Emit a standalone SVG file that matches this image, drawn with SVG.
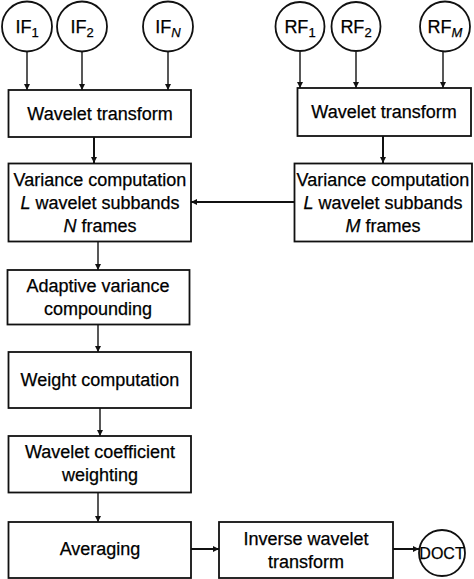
<svg xmlns="http://www.w3.org/2000/svg" width="474" height="579" viewBox="0 0 474 579">
<style>
.box{fill:#fff;stroke:#111;stroke-width:1.8}
.circ{fill:#fff;stroke:#111;stroke-width:1.8}
text{font-family:"Liberation Sans",Arial,sans-serif;font-size:18px;fill:#000;stroke:#000;stroke-width:0.25;text-anchor:middle}
.sub{font-size:13px}
.c{stroke:#111;stroke-width:1.4;fill:none;marker-end:url(#ah)}
.t{stroke-width:2}
</style>
<defs>
<marker id="ah" viewBox="0 0 10 10" refX="10" refY="5" markerWidth="6" markerHeight="6" markerUnits="userSpaceOnUse" orient="auto">
<path d="M0,0 L10,5 L0,10 z" fill="#111"/>
</marker>
</defs>
<g id="connectors">
<line class="c" x1="27" y1="52" x2="27" y2="90"/>
<line class="c" x1="82" y1="52" x2="82" y2="90"/>
<line class="c" x1="168" y1="52" x2="168" y2="90"/>
<line class="c" x1="300" y1="52" x2="300" y2="88"/>
<line class="c" x1="356" y1="52" x2="356" y2="88"/>
<line class="c" x1="443" y1="52" x2="443" y2="88"/>
<line class="c t" x1="94" y1="137" x2="94" y2="163"/>
<line class="c t" x1="383" y1="136" x2="383" y2="163"/>
<line class="c t" x1="294" y1="202" x2="191" y2="202"/>
<line class="c" x1="98" y1="242" x2="98" y2="270"/>
<line class="c" x1="98" y1="324" x2="98" y2="352"/>
<line class="c" x1="100" y1="408" x2="100" y2="436"/>
<line class="c" x1="98" y1="492" x2="98" y2="522"/>
<line class="c t" x1="191" y1="549" x2="219" y2="549"/>
<line class="c t" x1="393" y1="549" x2="419" y2="549"/>
</g>
<g id="IF1"><circle class="circ" cx="27" cy="26.5" r="25"/><text x="27" y="33">IF<tspan class="sub" dy="4">1</tspan></text></g>
<g id="IF2"><circle class="circ" cx="82" cy="26.5" r="25"/><text x="82" y="33">IF<tspan class="sub" dy="4">2</tspan></text></g>
<g id="IFN"><circle class="circ" cx="168" cy="26.5" r="25"/><text x="168" y="33">IF<tspan class="sub" dy="4" font-style="italic">N</tspan></text></g>
<g id="RF1"><circle class="circ" cx="300" cy="26.5" r="24.5"/><text x="300" y="33">RF<tspan class="sub" dy="4">1</tspan></text></g>
<g id="RF2"><circle class="circ" cx="356" cy="26.5" r="24.5"/><text x="356" y="33">RF<tspan class="sub" dy="4">2</tspan></text></g>
<g id="RFM"><circle class="circ" cx="445" cy="26.5" r="25"/><text x="445" y="33">RF<tspan class="sub" dy="4" font-style="italic">M</tspan></text></g>
<g id="wt-left"><rect class="box" x="8.5" y="90" width="182.5" height="47"/><text x="100" y="120">Wavelet transform</text></g>
<g id="wt-right"><rect class="box" x="297.5" y="88" width="173.5" height="48"/><text x="384" y="118">Wavelet transform</text></g>
<g id="var-left"><rect class="box" x="8.5" y="163.5" width="182.5" height="78"/>
<text x="100" y="186">Variance computation</text>
<text x="100" y="209"><tspan font-style="italic">L</tspan> wavelet subbands</text>
<text x="100" y="232"><tspan font-style="italic">N</tspan> frames</text></g>
<g id="var-right"><rect class="box" x="294.5" y="163.5" width="177.5" height="78"/>
<text x="383" y="186">Variance computation</text>
<text x="383" y="209"><tspan font-style="italic">L</tspan> wavelet subbands</text>
<text x="383" y="232"><tspan font-style="italic">M</tspan> frames</text></g>
<g id="adaptive"><rect class="box" x="7.5" y="270" width="182" height="54.5"/>
<text x="98" y="292">Adaptive variance</text>
<text x="98" y="315">compounding</text></g>
<g id="weight"><rect class="box" x="8.5" y="352" width="182.5" height="56"/><text x="100" y="386">Weight computation</text></g>
<g id="coef"><rect class="box" x="8.5" y="436" width="182.5" height="56.5"/>
<text x="100" y="458">Wavelet coefficient</text>
<text x="100" y="481">weighting</text></g>
<g id="averaging"><rect class="box" x="8.5" y="522" width="182.5" height="56"/><text x="100" y="555">Averaging</text></g>
<g id="inverse"><rect class="box" x="219" y="522" width="174" height="56"/>
<text x="306" y="545">Inverse wavelet</text>
<text x="306" y="568">transform</text></g>
<g id="DOCT"><circle class="circ" cx="442" cy="553" r="23"/><text x="442" y="559" style="font-size:16px">DOCT</text></g>
</svg>
